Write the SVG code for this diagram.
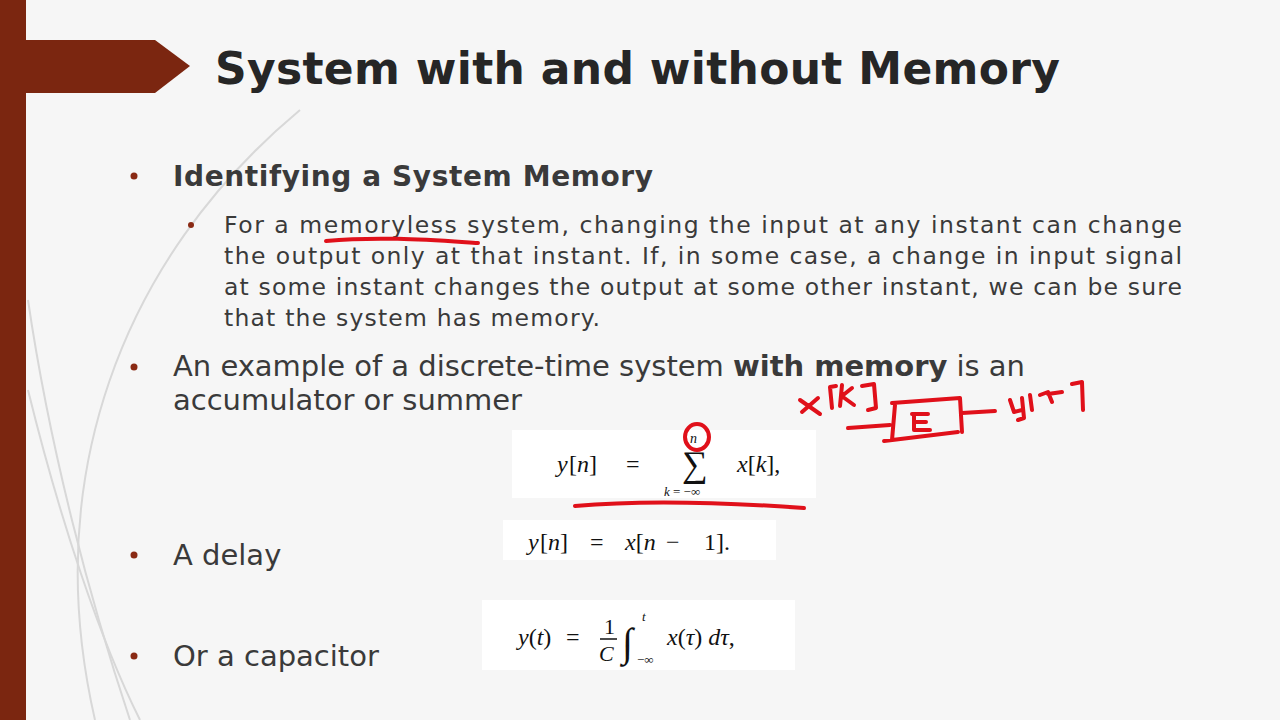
<svg xmlns="http://www.w3.org/2000/svg" width="1280" height="720" viewBox="0 0 1280 720">
<style>
.b{font-family:"DejaVu Sans",sans-serif;fill:#3a3a3a}
.m{font-family:"Liberation Serif",serif;fill:#111}
.i{font-style:italic}
.dot{fill:#8a2a14}
.red{fill:none;stroke:#e0101a;stroke-width:4;stroke-linecap:round;stroke-linejoin:round}
.arc{fill:none;stroke:#d8d8d8;stroke-width:2}
</style>
<rect width="1280" height="720" fill="#f6f6f6"/>
<path class="arc" d="M300 110 C120 260 40 480 95 720"/>
<path class="arc" d="M28 300 C50 450 90 600 130 720"/>
<path class="arc" d="M28 390 C60 520 100 640 140 720"/>
<rect x="0" y="0" width="26" height="720" fill="#7b2610"/>
<path d="M26 40 H155 L190 66 L155 93 H26 Z" fill="#7b2610"/>
<text class="b" x="215" y="84" font-size="44" font-weight="bold" style="fill:#262626" textLength="845">System with and without Memory</text>
<g class="dot"><circle cx="134" cy="176" r="3.5"/><circle cx="191" cy="225" r="3"/><circle cx="134" cy="367" r="3.5"/><circle cx="134" cy="555" r="3.5"/><circle cx="134" cy="656" r="3.5"/></g>
<text class="b" x="173" y="186" font-size="28" font-weight="bold" textLength="480">Identifying a System Memory</text>
<g class="b" font-size="23.5">
<text x="224" y="233" textLength="958" lengthAdjust="spacing">For a memoryless system, changing the input at any instant can change</text>
<text x="224" y="264" textLength="958" lengthAdjust="spacing">the output only at that instant. If, in some case, a change in input signal</text>
<text x="224" y="295" textLength="958" lengthAdjust="spacing">at some instant changes the output at some other instant, we can be sure</text>
<text x="224" y="326" textLength="376">that the system has memory.</text>
</g>
<g class="b" font-size="29">
<text x="173" y="376" textLength="852">An example of a discrete-time system <tspan font-weight="bold">with memory</tspan> is an</text>
<text x="173" y="410" textLength="349">accumulator or summer</text>
<text x="173" y="565">A delay</text>
<text x="173" y="666">Or a capacitor</text>
</g>
<rect x="512" y="430" width="304" height="68" fill="#fff"/>
<rect x="503" y="520" width="273" height="40" fill="#fff"/>
<rect x="482" y="600" width="313" height="70" fill="#fff"/>
<g class="m" font-size="24">
<text x="557" y="472" class="i">y</text><text x="569" y="472">[</text><text x="577" y="472" class="i">n</text><text x="589" y="472">]</text>
<text x="626" y="472">=</text>
<text x="682" y="476" font-size="36">∑</text>
<text x="690" y="443" font-size="14" class="i">n</text>
<text x="664" y="496" font-size="13"><tspan class="i">k</tspan> = −∞</text>
<text x="737" y="472"><tspan class="i">x</tspan>[<tspan class="i">k</tspan>],</text>
<text x="528" y="550" class="i">y</text><text x="540" y="550">[</text><text x="548" y="550" class="i">n</text><text x="560" y="550">]</text>
<text x="590" y="550">=</text>
<text x="625" y="550"><tspan class="i">x</tspan>[<tspan class="i">n</tspan></text>
<text x="666" y="550">−</text>
<text x="704" y="550">1].</text>
<text x="518" y="645"><tspan class="i">y</tspan>(<tspan class="i">t</tspan>)</text>
<text x="566" y="645">=</text>
<text x="604" y="634" font-size="22">1</text>
<line x1="600" y1="639" x2="617" y2="639" stroke="#111" stroke-width="1.5"/>
<text x="599" y="661" font-size="22" class="i">C</text>
<text x="622" y="656" font-size="40">∫</text>
<text x="642" y="621" font-size="13" class="i">t</text>
<text x="637" y="664" font-size="13">−∞</text>
<text x="667" y="645"><tspan class="i">x</tspan>(<tspan class="i">τ</tspan>) <tspan class="i">dτ</tspan>,</text>
</g>
<g id="annot">
<path class="red" d="M326 241 C380 236 430 240 478 243"/>
<path class="red" d="M575 506 C640 500 720 502 804 508"/>
<ellipse class="red" cx="697" cy="437" rx="12" ry="13" stroke-width="3"/>
<path class="red" d="M802 412 L818 398 M800 400 L820 414 M832 408 L830 387 L836 386 M842 385 L840 406 M842 396 L852 388 M843 397 L854 405 M862 386 L874 384 L876 408 L868 410"/>
<path class="red" d="M848 428 L890 425 M884 441 L958 432 M892 403 L960 398 L962 432 M895 405 L892 440 M912 414 L928 414 M914 414 L914 430 L930 430 M914 422 L926 422 M962 413 L995 411"/>
<path class="red" d="M1010 400 L1014 412 L1022 410 M1022 398 L1024 418 L1018 420 M1030 395 L1032 410 M1040 395 L1048 392 L1052 402 M1048 394 L1062 392 M1072 384 L1082 382 L1083 410"/>
</g>
</svg>
